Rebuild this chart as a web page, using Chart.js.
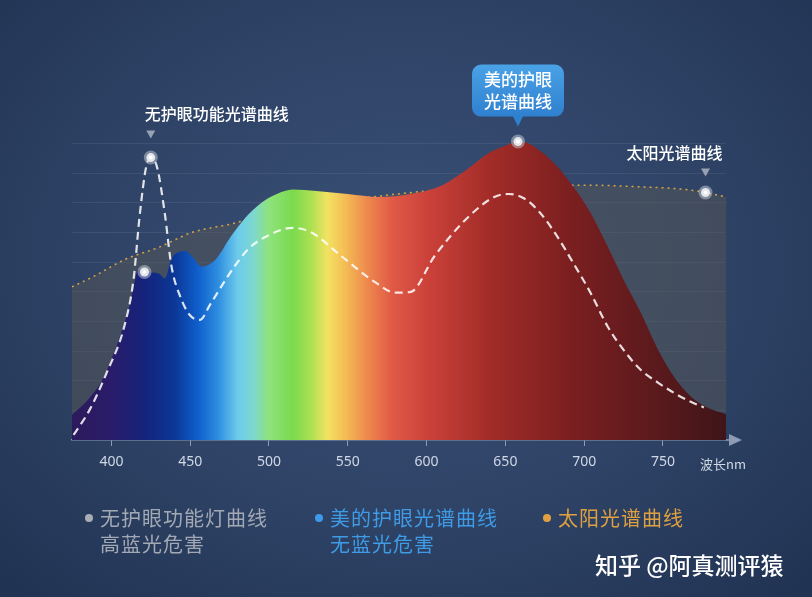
<!DOCTYPE html>
<html>
<head>
<meta charset="utf-8">
<script src="https://cdn.jsdelivr.net/npm/chart.js@4.4.1/dist/chart.umd.min.js"></script>
<style>
  html, body { margin: 0; padding: 0; }
  body {
    width: 812px; height: 597px; overflow: hidden; position: relative;
    background: radial-gradient(ellipse 70% 75% at 50% 45%, #3a5076 0%, #2e4366 55%, #213353 100%);
    font-family: "Noto Sans CJK SC", "Noto Sans", sans-serif;
  }
  #chart { position: absolute; left: 0; top: 0; }
  .legend { position: absolute; font-size: 20px; line-height: 26px; letter-spacing: 1px; }
  .legend .dot { position: absolute; left: -15px; top: 9px; width: 8px; height: 8px; border-radius: 50%; }
  .mark { position: absolute; left: 595px; top: 547px; color: #fff; font-size: 23px; font-weight: 500; }
</style>
</head>
<body>
<canvas id="chart" width="812" height="597"></canvas>

<div class="legend" style="left:100px;top:505px;color:#a3a9b4"><span class="dot" style="background:#a9adb5"></span>无护眼功能灯曲线<br>高蓝光危害</div>
<div class="legend" style="left:330px;top:505px;color:#3f9be6"><span class="dot" style="background:#3d9ae8"></span>美的护眼光谱曲线<br>无蓝光危害</div>
<div class="legend" style="left:558px;top:505px;color:#dfa042"><span class="dot" style="background:#e0a040"></span>太阳光谱曲线</div>
<div class="mark">知乎 @阿真测评猿</div>

<script>
// wavelength ticks (nm)
const xTicks = [400, 450, 500, 550, 600, 650, 700, 750];

// 美的护眼光谱曲线 (filled spectrum)
const specNm  = [375, 385, 395, 402, 408, 412, 415, 417, 421, 430, 434, 438, 443, 447, 452, 457, 466, 476, 485, 495,
                 505, 515, 530, 550, 570, 590, 610, 625, 640, 650, 658, 665, 675, 685, 693, 704, 715, 725, 736, 746,
                 757, 768, 778, 790];
const specVal = [0.85, 1.35, 2.1, 3.0, 3.9, 4.63, 5.4, 5.74, 5.67, 5.62, 5.45, 6.1, 6.35, 6.38, 6.15, 5.85, 6.08, 6.88, 7.5, 8.0,
                 8.3, 8.45, 8.4, 8.3, 8.2, 8.3, 8.6, 9.1, 9.7, 9.93, 10.07, 10.0, 9.63, 9.1, 8.55, 7.67, 6.52, 5.41, 4.29, 3.14,
                 2.13, 1.45, 1.1, 0.88];

// 无护眼功能光谱曲线 (white dashed)
const dashNm  = [376, 386, 397, 408, 414, 418, 422, 425, 429, 434, 438, 444, 450, 456, 463, 470, 478, 487, 498, 515,
                 527, 546, 568, 580, 590, 605, 626, 643, 652, 662, 672, 683, 693, 704, 715, 725, 736, 747, 757, 768, 776];
const dashVal = [0.17, 1.0, 2.27, 3.8, 5.4, 7.6, 9.2, 9.53, 9.2, 7.6, 5.9, 4.8, 4.2, 4.05, 4.6, 5.2, 5.85, 6.45, 6.86, 7.16,
                 7.0, 6.2, 5.3, 4.97, 5.0, 6.2, 7.5, 8.2, 8.3, 8.15, 7.67, 6.86, 5.98, 4.97, 3.82, 3.04, 2.36, 1.93, 1.59, 1.28, 1.1];

// 太阳光谱曲线 (orange dotted)
const sunNm  = [375, 388, 409, 430, 451, 479, 500, 550, 600, 650, 700, 733, 765, 777, 790];
const sunVal = [5.17, 5.5, 6.1, 6.5, 7.0, 7.33, 7.7, 8.1, 8.4, 8.58, 8.6, 8.55, 8.45, 8.35, 8.2];

// which points carry a marker
const specMarks = [421, 658];
const dashMarks = [425];
const sunMarks = [777];

// colour stops of the spectrum fill (nm -> colour)
const specStops = [
  [375, "#2d1a5c"], [400, "#2a1c6a"], [420, "#15227a"], [440, "#0b3796"], [455, "#0f5fcc"],
  [468, "#2f8fe0"], [480, "#6ccaec"], [490, "#7dd8d0"], [500, "#8ee27c"], [515, "#7ada4e"],
  [527, "#aee052"], [537, "#f3e262"], [548, "#f4be55"], [562, "#ee8a4e"], [578, "#e05a46"],
  [600, "#cc423a"], [640, "#a22c28"], [690, "#7c1f20"], [740, "#5e1a1d"], [790, "#3f1519"]
];

const toXY = (xs, ys) => xs.map((x, i) => ({ x: x, y: ys[i] }));

function markRadius(marks) {
  return c => (c.raw && marks.includes(c.raw.x)) ? 4.5 : 0;
}

function spectrumFill(context) {
  const chart = context.chart;
  const xs = chart.scales.x;
  if (!chart.chartArea || !xs) return "#8a2a25";
  const x0 = xs.getPixelForValue(specStops[0][0]);
  const x1 = xs.getPixelForValue(specStops[specStops.length - 1][0]);
  const g = chart.ctx.createLinearGradient(x0, 0, x1, 0);
  specStops.forEach(s => g.addColorStop((xs.getPixelForValue(s[0]) - x0) / (x1 - x0), s[1]));
  return g;
}

function pointOf(chart, dsIndex, nm) {
  const meta = chart.getDatasetMeta(dsIndex);
  const idx = chart.data.datasets[dsIndex].data.findIndex(p => p.x === nm);
  return meta.data[idx];
}

function downTriangle(ctx, x, y, color) {
  ctx.fillStyle = color;
  ctx.beginPath();
  ctx.moveTo(x - 4.5, y - 4);
  ctx.lineTo(x + 4.5, y - 4);
  ctx.lineTo(x, y + 4);
  ctx.closePath();
  ctx.fill();
}

// labels, bubble and axis arrow
const decorPlugin = {
  id: "decor",
  afterDraw(chart) {
    const ctx = chart.ctx;
    const area = chart.chartArea;
    ctx.save();

    // axis arrow
    ctx.strokeStyle = "#8e9bb5";
    ctx.lineWidth = 1.5;
    ctx.beginPath();
    ctx.moveTo(area.right, area.bottom);
    ctx.lineTo(area.right + 4, area.bottom);
    ctx.stroke();
    ctx.fillStyle = "#8e9bb5";
    ctx.beginPath();
    ctx.moveTo(area.right + 3, area.bottom - 6);
    ctx.lineTo(area.right + 16, area.bottom);
    ctx.lineTo(area.right + 3, area.bottom + 6);
    ctx.closePath();
    ctx.fill();

    ctx.font = "13px 'Noto Sans CJK SC'";
    ctx.fillStyle = "#d0d8e6";
    ctx.textAlign = "left";
    ctx.textBaseline = "middle";
    ctx.fillText("波长nm", area.right - 26, area.bottom + 24);

    ctx.font = "500 16px 'Noto Sans CJK SC'";

    // dashed-curve label
    const p1 = pointOf(chart, 2, dashMarks[0]);
    downTriangle(ctx, p1.x, p1.y - 23, "#97a1b4");
    ctx.fillStyle = "#ffffff";
    ctx.textAlign = "left";
    ctx.fillText("无护眼功能光谱曲线", p1.x - 6, p1.y - 44);

    // sun label
    const p3 = pointOf(chart, 0, sunMarks[0]);
    downTriangle(ctx, p3.x, p3.y - 20, "#97a1b4");
    ctx.fillStyle = "#ffffff";
    ctx.textAlign = "right";
    ctx.fillText("太阳光谱曲线", p3.x + 17, p3.y - 40);

    // bubble
    const p2 = pointOf(chart, 1, specMarks[1]);
    const bw = 92, bh = 52, r = 9;
    const bx = p2.x - bw / 2, by = p2.y - 77;
    const g = ctx.createLinearGradient(0, by, 0, by + bh);
    g.addColorStop(0, "#4aa2e6");
    g.addColorStop(1, "#2f80cf");
    ctx.fillStyle = g;
    ctx.beginPath();
    ctx.moveTo(bx + r, by);
    ctx.arcTo(bx + bw, by, bx + bw, by + bh, r);
    ctx.arcTo(bx + bw, by + bh, bx, by + bh, r);
    ctx.lineTo(p2.x + 5, by + bh);
    ctx.lineTo(p2.x, by + bh + 10);
    ctx.lineTo(p2.x - 5, by + bh);
    ctx.arcTo(bx, by + bh, bx, by, r);
    ctx.arcTo(bx, by, bx + bw, by, r);
    ctx.closePath();
    ctx.fill();
    ctx.fillStyle = "#ffffff";
    ctx.textAlign = "center";
    ctx.font = "500 17px 'Noto Sans CJK SC'";
    ctx.fillText("美的护眼", p2.x, by + 15);
    ctx.fillText("光谱曲线", p2.x, by + 37);

    ctx.restore();
  }
};

new Chart(document.getElementById("chart"), {
  type: "line",
  data: {
    datasets: [
      {
        label: "太阳光谱曲线",
        data: toXY(sunNm, sunVal),
        borderColor: "#d9a544",
        borderWidth: 1.5,
        borderDash: [2, 4],
        fill: "origin",
        backgroundColor: "rgba(92,88,84,0.45)",
        cubicInterpolationMode: "monotone",
        pointRadius: markRadius(sunMarks),
        pointBackgroundColor: "#ffffff",
        pointBorderColor: "rgba(200,205,215,0.5)",
        pointBorderWidth: 5,
        order: 2
      },
      {
        label: "美的护眼光谱曲线",
        data: toXY(specNm, specVal),
        borderWidth: 0,
        borderColor: "rgba(0,0,0,0)",
        fill: "origin",
        backgroundColor: spectrumFill,
        cubicInterpolationMode: "monotone",
        pointRadius: markRadius(specMarks),
        pointBackgroundColor: "#ffffff",
        pointBorderColor: "rgba(200,205,215,0.5)",
        pointBorderWidth: 5,
        order: 1
      },
      {
        label: "无护眼功能光谱曲线",
        data: toXY(dashNm, dashVal),
        borderColor: "rgba(255,255,255,0.85)",
        borderWidth: 2.2,
        borderDash: [8, 5],
        fill: false,
        cubicInterpolationMode: "monotone",
        pointRadius: markRadius(dashMarks),
        pointBackgroundColor: "#ffffff",
        pointBorderColor: "rgba(200,205,215,0.5)",
        pointBorderWidth: 5,
        order: 0
      }
    ]
  },
  options: {
    responsive: false,
    animation: false,
    layout: { padding: { left: 72, right: 86, top: 114, bottom: 0 } },
    plugins: { legend: { display: false }, tooltip: { enabled: false } },
    scales: {
      x: {
        type: "linear",
        min: 375,
        max: 790,
        afterBuildTicks: scale => { scale.ticks = xTicks.map(v => ({ value: v })); },
        afterFit: scale => { scale.height = 157; },
        grid: { drawOnChartArea: false, drawTicks: true, tickLength: 6, tickColor: "#8e9bb5" },
        border: { display: true, color: "#8e9bb5", width: 1.5 },
        ticks: { color: "#d0d8e6", padding: 8, font: { family: "'Noto Sans'", size: 14 } }
      },
      y: {
        min: 0,
        max: 11,
        afterFit: scale => { scale.width = 0; },
        ticks: { display: false, stepSize: 1 },
        border: { display: false },
        grid: {
          drawTicks: false,
          color: c => (c.tick.value > 0 && c.tick.value <= 10) ? "rgba(255,255,255,0.07)" : "rgba(0,0,0,0)"
        }
      }
    }
  },
  plugins: [decorPlugin]
});
</script>
</body>
</html>
